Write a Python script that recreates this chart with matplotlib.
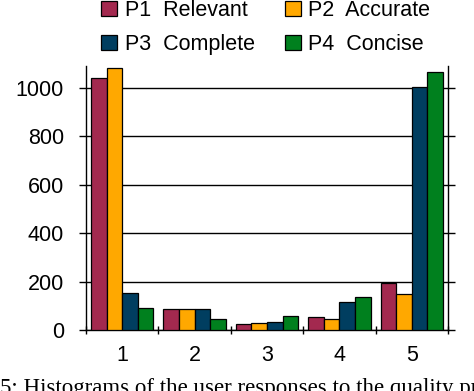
import matplotlib
matplotlib.use("Agg")
import matplotlib.pyplot as plt
import numpy as np

categories = ["1", "2", "3", "4", "5"]
series_names = ["P1  Relevant", "P2  Accurate", "P3  Complete", "P4  Concise"]
p1 = [1040, 85, 23, 54, 195]
p2 = [1081, 85, 28, 44, 149]
p3 = [154, 85, 33, 114, 1005]
p4 = [90, 44, 59, 135, 1067]
series = [p1, p2, p3, p4]
colors = ["#A3294F", "#FFA800", "#003E60", "#00801E"]
yticks = [0, 200, 400, 600, 800, 1000]

plt.rcParams['font.family'] = ['Liberation Sans', 'DejaVu Sans']
FS = 15.5

fig = plt.figure(figsize=(4.74, 3.91), dpi=100)
ax = fig.add_axes([86/474, 1-330/391, (448-86)/474, (330-66)/391])

x = np.arange(1, len(categories) + 1)
w = 0.215
handles = []
for i, (vals, c, name) in enumerate(zip(series, colors, series_names)):
    h = ax.bar(x + (i - 1.5) * w, vals, width=w, color=c, edgecolor='black',
               linewidth=0.9, label=name, zorder=3)
    handles.append(h)

ax.set_xlim(0.5, 5.5)
ax.set_ylim(0, 1090)
ax.set_yticks(yticks)
ax.set_yticklabels([str(t) for t in yticks], fontsize=FS)
ax.yaxis.grid(True, color='black', linewidth=1.0, zorder=0)
ax.set_axisbelow(True)

ax.set_xticks(np.arange(0.5, 6.0, 1.0))
ax.set_xticklabels([])
ax.set_xticks(x, minor=True)
ax.set_xticklabels(categories, minor=True, fontsize=FS)
ax.tick_params(axis='x', which='minor', length=0, pad=11)
ax.tick_params(axis='x', which='major', length=6, direction='inout', width=1)
ax.tick_params(axis='y', length=5, width=1, direction='out', pad=11, right=True)

for s in ['left', 'bottom', 'right']:
    ax.spines[s].set_linewidth(1.0)
ax.spines['top'].set_visible(False)

order = [0, 2, 1, 3]
fig.legend([handles[i] for i in order], [series_names[i] for i in order],
           loc='upper left', bbox_to_anchor=(101/474, 1.0),
           ncol=2, frameon=False, fontsize=FS, handlelength=0.75,
           handleheight=0.75, handletextpad=0.35, columnspacing=1.4,
           labelspacing=0.6, borderaxespad=0.0, borderpad=0.0)

fig.text(0.0, 1 - 378/391, "5: Histograms of the user responses to the quality properties",
         fontsize=16.5, family=['Liberation Serif', 'DejaVu Serif'], ha='left', va='top')

fig.savefig("out.png", dpi=100)
